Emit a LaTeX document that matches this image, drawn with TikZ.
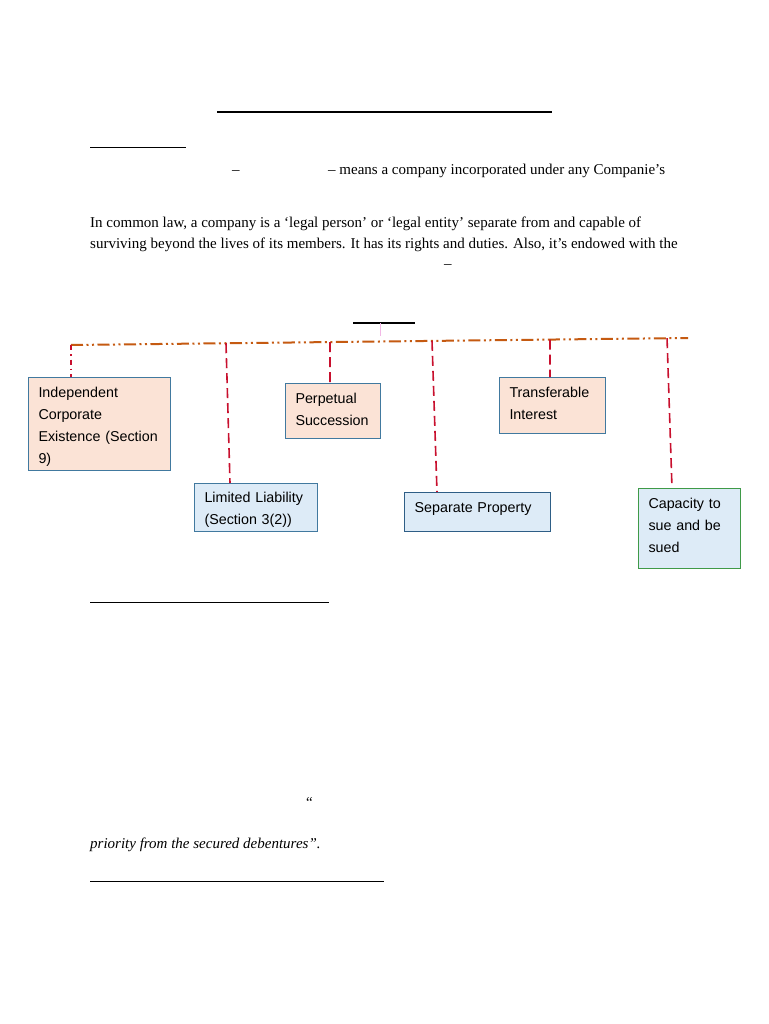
\documentclass[tikz,border=0pt]{standalone}
\usepackage{fontspec}
\setmainfont{Liberation Serif}
\newfontfamily\boxfont{Liberation Sans}
\usetikzlibrary{calc}
\definecolor{peach}{HTML}{FBE3D6}
\definecolor{lblue}{HTML}{DDEBF7}
\definecolor{bordblue}{HTML}{41799F}
\definecolor{darkblue}{HTML}{2E5E86}
\definecolor{bordgreen}{HTML}{3F9A48}
\definecolor{trunkor}{HTML}{C55A11}
\definecolor{dashred}{HTML}{C8102E}
\definecolor{pinkline}{HTML}{F2B8E6}
\newcommand\bxt[3]{\rule{0pt}{#1pt}#3\rule[-#2pt]{0pt}{0pt}}
\tikzset{
  bodytext/.style={anchor=base west, inner sep=0pt, font=\fontsize{15}{21}\selectfont},
  ibox/.style={draw=bordblue, line width=1pt, anchor=north west, inner xsep=10pt, inner ysep=0pt,
     align=left, font=\boxfont\fontsize{14.3}{22}\selectfont},
  conn/.style={draw=dashred, line width=1.6pt, dash pattern=on 10pt off 5pt},
  trunk/.style={draw=trunkor, line width=2pt, dash pattern=on 12pt off 3.5pt on 2pt off 3.5pt on 2pt off 3.5pt},
  rule/.style={draw=black, line width=0.8pt},
  thickrule/.style={draw=black, line width=1.8pt}
}
\begin{document}
\begin{tikzpicture}[x=1pt,y=-1pt]
\useasboundingbox[fill=white] (0,0) rectangle (768,1024);
% top rules
\coordinate (r1a) at (217,112); \coordinate (r1b) at (552,112);
\draw[thickrule] (r1a) -- (r1b);
\coordinate (r2a) at (90,147); \coordinate (r2b) at (186,147);
\draw[rule] (r2a) -- (r2b);
% text lines
\node[bodytext] (d1) at (232,175) {–};
\node[bodytext] (l1) at (328,175) {– means a company incorporated under any Companie’s};
\node[bodytext] (p1) at (90,227) {In common law, a company is a ‘legal person’ or ‘legal entity’ separate from and capable of};
\node[bodytext] (p2) at (90,248) {surviving beyond the lives of its members. It has its rights and duties. Also, it’s endowed with the};
\node[bodytext] (d2) at (444,268) {–};
% heading rule and pink tick
\coordinate (h1) at (353,323); \coordinate (h2) at (415,323);
\draw[thickrule] (h1) -- (h2);
\coordinate (pk1) at (380,323); \coordinate (pk2) at (380,336);
\draw[pinkline, line width=1pt] (pk1) -- (pk2);
% boxes
\node[ibox, fill=peach, minimum width=142pt, minimum height=93pt, text width=122pt] (a) at (28,377)
  {\bxt{20}{7}{Independent\\Corporate\\\mbox{Existence (Section}\\9)}};
\node[ibox, fill=peach, minimum width=95pt, minimum height=55pt, text width=75pt] (b) at (285,383)
  {\bxt{20}{13}{Perpetual\\Succession}};
\node[ibox, fill=peach, minimum width=106pt, minimum height=56pt, text width=86pt] (c) at (499,377)
  {\bxt{20}{14}{Transferable\\Interest}};
\node[ibox, fill=lblue, minimum width=123pt, minimum height=48pt, text width=103pt] (d) at (194,483)
  {\bxt{19}{7}{Limited Liability\\(Section 3(2))}};
\node[ibox, fill=lblue, draw=darkblue, line width=1.4pt, minimum width=146pt, minimum height=39pt, text width=126pt] (e) at (404,492)
  {\bxt{20}{19}{Separate Property}};
\node[ibox, fill=lblue, draw=bordgreen, minimum width=102pt, minimum height=80pt, text width=82pt] (f) at (638,488)
  {\bxt{20}{16}{Capacity to\\sue and be\\sued}};
% trunk
\coordinate (tl) at (71,345);
\coordinate (tr) at (688,338);
\draw[trunk] (tl) -- (tr);
\coordinate (t2) at ($(tl)!0.2512!(tr)$);
\coordinate (t3) at ($(tl)!0.4198!(tr)$);
\coordinate (t4) at ($(tl)!0.5851!(tr)$);
\coordinate (t5) at ($(tl)!0.7763!(tr)$);
\coordinate (t6) at ($(tl)!0.9660!(tr)$);
% connectors
\draw[conn, dash pattern=on 5pt off 4pt on 1.5pt off 4pt] (tl) -- ($(a.north west)+(43,0)$);
\draw[conn] (t2) -- ($(d.north west)+(36,0)$);
\draw[conn] (t3) -- ($(b.north west)+(45,0)$);
\draw[conn] (t4) -- ($(e.north west)+(33,0)$);
\draw[conn] (t5) -- ($(c.north west)+(51,0)$);
\draw[conn] (t6) -- ($(f.north west)+(34,0)$);
% lower part
\coordinate (r3a) at (90,602); \coordinate (r3b) at (329,602);
\draw[rule] (r3a) -- (r3b);
\node[bodytext] (q) at (306,807) {“};
\node[bodytext, font=\itshape\fontsize{15}{21}\selectfont] (pr) at (90,848) {priority from the secured debentures”.};
\coordinate (r4a) at (90,881); \coordinate (r4b) at (384,881);
\draw[rule] (r4a) -- (r4b);
\end{tikzpicture}
\end{document}
